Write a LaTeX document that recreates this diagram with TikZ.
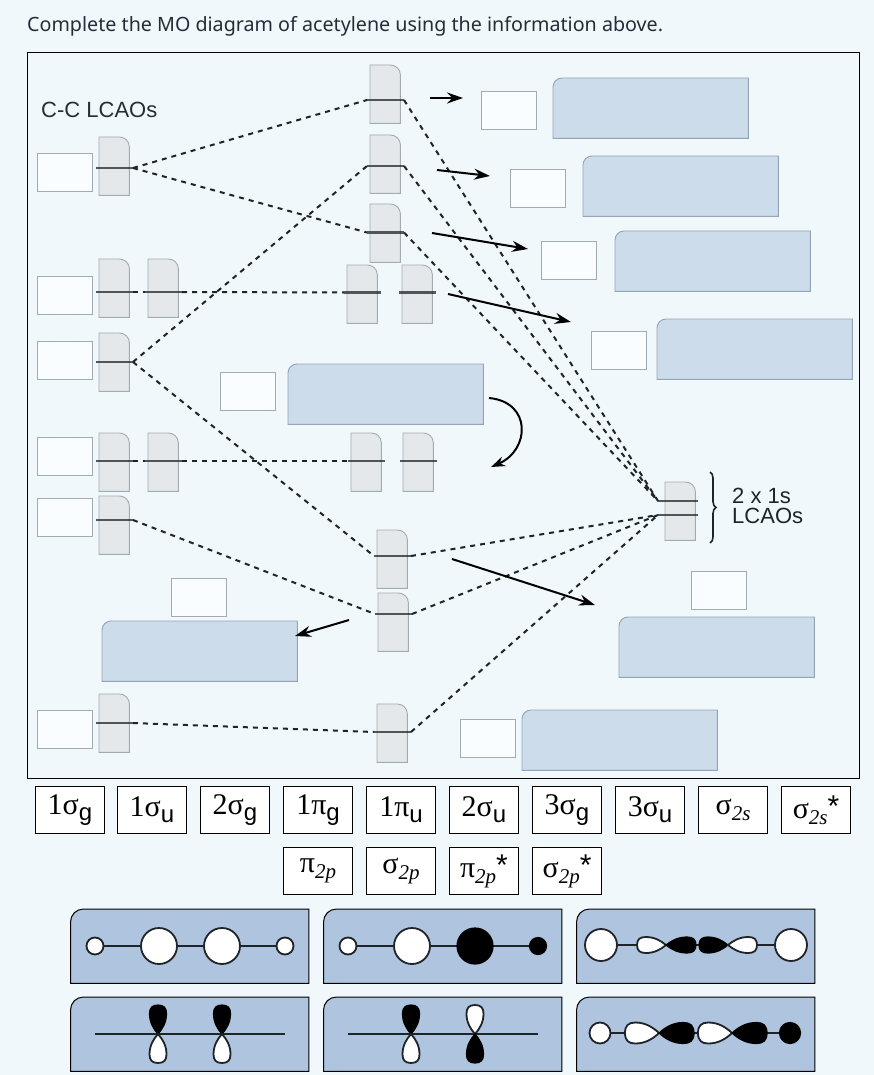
\documentclass[tikz,border=0pt]{standalone}
\usepackage{fontspec}
\setmainfont{Liberation Sans}
\newfontfamily\serf{Liberation Serif}
\newfontfamily\titlef{Noto Sans}
\usetikzlibrary{arrows.meta,decorations.pathreplacing,calc}
\definecolor{pagebg}{HTML}{F0F8FC}
\definecolor{ansfill}{HTML}{CCDCEB}
\definecolor{ansline}{HTML}{93A4B5}
\definecolor{tabfill}{HTML}{E4E8EB}
\definecolor{tabline}{HTML}{A2ABB2}
\definecolor{cardfill}{HTML}{AFC4DE}
\definecolor{whitebox}{HTML}{F9FDFF}
\definecolor{inkc}{HTML}{222E38}
\definecolor{darkl}{HTML}{1F2428}
\tikzset{
  x=1pt,y=-1pt,
  tabstyle/.style={draw=tabline,fill=tabfill,line width=0.9pt},
  levelline/.style={draw=darkl,line width=2.2pt,opacity=.75},
  dashline/.style={draw=darkl,line width=2pt,dash pattern=on 5pt off 5pt},
  ansbox/.style={draw=tabline,fill=whitebox,line width=1pt,inner sep=0pt,minimum width=55pt,minimum height=38pt,anchor=north west},
  blueanchor/.style={inner sep=0pt,minimum width=195pt,minimum height=60pt,anchor=north west},
  bluestyle/.style={draw=ansline,fill=ansfill,line width=.9pt},
  token/.style={draw=black,fill=white,line width=1pt,inner sep=0pt,minimum width=69pt,minimum height=47pt,anchor=north west,font=\fontsize{30}{30}\selectfont\serf},
  cardanchor/.style={inner sep=0pt,minimum width=238pt,minimum height=74pt,anchor=north west},
  cardstyle/.style={draw=black,fill=cardfill,line width=1pt},
  orbline/.style={draw=darkl,line width=1.9pt},
  orbw/.style={draw=darkl,fill=white,line width=1.8pt},
  orbb/.style={draw=black,fill=black,line width=1.2pt},
  bigarrow/.style={draw=black,line width=2pt,-{Stealth[length=16pt,width=11pt]}},
}
% tab with level line: name, left x, top y, line y
\newcommand{\tabl}[4]{%
  \node[inner sep=0pt,minimum width=30pt,minimum height=58pt,anchor=north west] (#1) at (#2,#3) {};
  \path[tabstyle,rounded corners=0pt] (#1.south west) -- (#1.north west) -- ($(#1.north east)+(-10,0)$) to[out=0,in=90] ($(#1.north east)+(0,10)$) -- (#1.south east) -- cycle;
  \coordinate (#1-l) at (#2-3,#4);
  \coordinate (#1-r) at (#2+34,#4);
  \draw[levelline] (#1-l) -- (#1-r);
}
\newcommand{\bluebox}[3]{%
  \node[blueanchor] (#1) at (#2,#3) {};
  \path[bluestyle] (#1.south west) -- ($(#1.north west)+(0,9)$) to[out=90,in=180] ($(#1.north west)+(9,0)$) -- (#1.north east) -- (#1.south east) -- cycle;
}
\newcommand{\card}[3]{%
  \node[cardanchor] (#1) at (#2,#3) {};
  \path[cardstyle] (#1.south west) -- ($(#1.north west)+(0,13)$) to[out=90,in=180] ($(#1.north west)+(13,0)$) -- (#1.north east) -- (#1.south east) -- cycle;
}
% teardrop lobe: x, y, direction, length, half-width, style
\newcommand{\lobe}[6]{%
  \begin{scope}[shift={(#1,#2)},rotate=#3]
  \path[#6] (0,0) .. controls (.18*#4,.55*#5) and (.4*#4,#5) .. (.7*#4,#5)
     .. controls (.9*#4,#5) and (#4,.7*#5) .. (#4,0)
     .. controls (#4,-.7*#5) and (.9*#4,-#5) .. (.7*#4,-#5)
     .. controls (.4*#4,-#5) and (.18*#4,-.55*#5) .. (0,0) -- cycle;
  \end{scope}
}
\newcommand{\sig}{σ}
\newcommand{\sbg}[1]{\raisebox{-6pt}{\fontsize{24}{24}\selectfont\rmfamily #1}}
\newcommand{\sbi}[1]{\raisebox{-6pt}{\fontsize{21}{21}\selectfont\serf\itshape #1}}
\newcommand{\strr}{\raisebox{2pt}{\fontsize{30}{30}\selectfont\rmfamily *}}
\begin{document}
\begin{tikzpicture}
\useasboundingbox (0,0) rectangle (874,1075);
\fill[pagebg] (0,0) rectangle (874,1075);
\node[anchor=base west,inner sep=0pt,text=inkc,font=\fontsize{19.7}{19.7}\selectfont\titlef] (title) at (27,32) {Complete the MO diagram of acetylene using the information above.};
\node[draw=black,fill=pagebg,line width=1pt,inner sep=0pt,minimum width=832pt,minimum height=726pt,anchor=north west] (frame) at (27,52) {};
\node[anchor=base west,inner sep=0pt,text=inkc,font=\fontsize{22}{22}\selectfont] (lcaolabel) at (41,118) {C-C LCAOs};

% answer boxes
\foreach \n/\a/\b in {a1/481/91,a2/510/169,a3/541/241,a4/591/331,a5/220/372,a6/37/153,a7/37/276,a8/37/341,a9/37/437,a10/37/498,a11/171/578,a12/691/571,a13/37/710,a14/460/719}
  \node[ansbox] (\n) at (\a,\b) {};
\bluebox{b1}{553}{78}
\bluebox{b2}{583}{156}
\bluebox{b3}{615}{231}
\bluebox{b4}{657}{319}
\bluebox{b5}{288}{364}
\bluebox{b6}{102}{621}
\bluebox{b7}{619}{617}
\bluebox{b8}{522}{710}

% level tabs
\tabl{A}{99}{137}{168}
\tabl{BA}{99}{259}{292}
\tabl{BB}{148}{259}{292}
\tabl{C}{99}{333}{362}
\tabl{DA}{99}{433}{461}
\tabl{DB}{148}{433}{461}
\tabl{E}{99}{496}{520}
\tabl{F}{99}{694}{723}
\tabl{GA}{370}{65}{100}
\tabl{GB}{370}{135}{166}
\tabl{GC}{370}{204}{232.5}
\tabl{HA}{347}{265}{292.5}
\tabl{HB}{402}{265}{292.5}
\tabl{IA}{351}{433}{461}
\tabl{IB}{403}{433}{461}
\tabl{J}{377}{530}{556}
\tabl{K}{378}{593}{614}
\tabl{L}{377}{704}{732}
\node[inner sep=0pt,minimum width=30pt,minimum height=58pt,anchor=north west] (M) at (665,482) {};
\path[tabstyle] (M.south west) -- (M.north west) -- ($(M.north east)+(-10,0)$) to[out=0,in=90] ($(M.north east)+(0,10)$) -- (M.south east) -- cycle;
\coordinate (M-a) at (658,501);
\coordinate (M-ar) at (698,501);
\coordinate (M-b) at (658,515);
\coordinate (M-br) at (698,515);
\draw[levelline] (M-a) -- (M-ar);
\draw[levelline] (M-b) -- (M-br);

% dashed correlation lines
\draw[dashline] (A-r) -- (GA-l);
\draw[dashline] (A-r) -- (GC-l);
\draw[dashline] (C-r) -- (GB-l);
\draw[dashline] (BA-r) -- (BB-l);
\draw[dashline] (BB-r) -- (HA-l);
\draw[dashline] (DA-r) -- (DB-l);
\draw[dashline] (DB-r) -- (IA-l);
\draw[dashline] (C-r) -- (J-l);
\draw[dashline] (E-r) -- (K-l);
\draw[dashline] (F-r) -- (L-l);
\draw[dashline] (GA-r) -- (M-a);
\draw[dashline] (GB-r) -- (M-a);
\draw[dashline] (GC-r) -- (M-a);
\draw[dashline] (J-r) -- (M-b);
\draw[dashline] (K-r) -- (M-b);
\draw[dashline] (L-r) -- (M-b);

% brace + label
\coordinate (bt) at (710,472);
\coordinate (bb) at (710,543);
\draw[darkl,line width=1.6pt,decorate,decoration={brace,amplitude=6pt}] (bt) -- (bb);
\node[anchor=base west,inner sep=0pt,text=darkl,font=\fontsize{22}{22}\selectfont] (lab1) at (732,503) {2 x 1s};
\node[anchor=base west,inner sep=0pt,text=darkl,font=\fontsize{22}{22}\selectfont] (lab2) at (732,523) {LCAOs};

% solid arrows
\foreach \n/\ax/\ay/\bx/\by in {r1/430/98/463/98,r2/437/170/490/176,r3/432/233/528/249,r4/448/294/571/322,r5/349/620/295/636,r6/452/559/595/605}{
  \coordinate (\n s) at (\ax,\ay);
  \coordinate (\n e) at (\bx,\by);
  \draw[bigarrow] (\n s) -- (\n e);
}
\coordinate (cs) at (489,398);
\coordinate (ce) at (491,467);
\draw[draw=black,line width=2pt,-{Stealth[length=14pt,width=10pt]}] (cs) .. controls (532,402) and (530,450) .. (ce);

% token boxes
\foreach \n/\a/\b/\t in {
 t1/35/786/{1\sig\sbg{g}},
 t2/117/786/{1\sig\sbg{u}},
 t3/200/786/{2\sig\sbg{g}},
 t4/283/786/{1π\sbg{g}},
 t5/366/786/{1π\sbg{u}},
 t6/449/786/{2\sig\sbg{u}},
 t7/532/786/{3\sig\sbg{g}},
 t8/615/786/{3\sig\sbg{u}},
 t9/698/786/{\sig\sbi{2s}},
 t10/781/786/{\sig\sbi{2s}\strr},
 t11/283/847/{π\sbi{2p}},
 t12/366/847/{\sig\sbi{2p}},
 t13/449/847/{π\sbi{2p}\strr},
 t14/532/847/{\sig\sbi{2p}\strr}}
  \node[token] (\n) at (\a,\b) {\t};

% orbital cards
\card{ca}{70.5}{909}
\card{cb}{323.5}{909}
\card{cc}{576.5}{909}
\card{cd}{70.5}{997}
\card{ce}{323.5}{997}
\card{cf}{576.5}{997}

% card a
\draw[orbline] (95,946) -- (285,946);
\path[orbw] (95,946) circle[radius=8.5];
\path[orbw] (159,946) circle[radius=18];
\path[orbw] (222,946) circle[radius=18];
\path[orbw] (285,946) circle[radius=8.5];
% card b
\draw[orbline] (348,946) -- (538,946);
\path[orbw] (348,946) circle[radius=8.5];
\path[orbw] (412,946) circle[radius=18];
\path[orbb] (475,946) circle[radius=18];
\path[orbb] (538,946) circle[radius=8.5];
% card c
\draw[orbline] (601,945) -- (791,945);
\path[orbw] (601,945) circle[radius=16];
\path[orbw] (791,945) circle[radius=16];
\lobe{666}{945}{180}{29}{8}{orbw}
\lobe{666}{945}{0}{30}{8}{orbb}
\lobe{728}{945}{180}{29}{8}{orbb}
\lobe{728}{945}{0}{29}{8}{orbw}
% card d
\draw[orbline] (95,1034) -- (285,1034);
\lobe{158}{1034}{90}{29}{8.5}{orbb}
\lobe{158}{1034}{-90}{29}{8.5}{orbw}
\lobe{222}{1034}{90}{29}{8.5}{orbb}
\lobe{222}{1034}{-90}{29}{8.5}{orbw}
% card e
\draw[orbline] (348,1034) -- (538,1034);
\lobe{411}{1034}{90}{29}{8.5}{orbb}
\lobe{411}{1034}{-90}{29}{8.5}{orbw}
\lobe{475}{1034}{90}{29}{8.5}{orbw}
\lobe{475}{1034}{-90}{29}{8.5}{orbb}
% card f
\draw[orbline] (600,1033) -- (790,1033);
\path[orbw] (600,1033) circle[radius=10.5];
\path[orbb] (790,1033) circle[radius=10.5];
\lobe{659}{1033}{180}{34}{10.5}{orbw}
\lobe{659}{1033}{0}{35}{10.5}{orbb}
\lobe{732}{1033}{180}{34}{10.5}{orbw}
\lobe{732}{1033}{0}{35}{10.5}{orbb}
\end{tikzpicture}
\end{document}
